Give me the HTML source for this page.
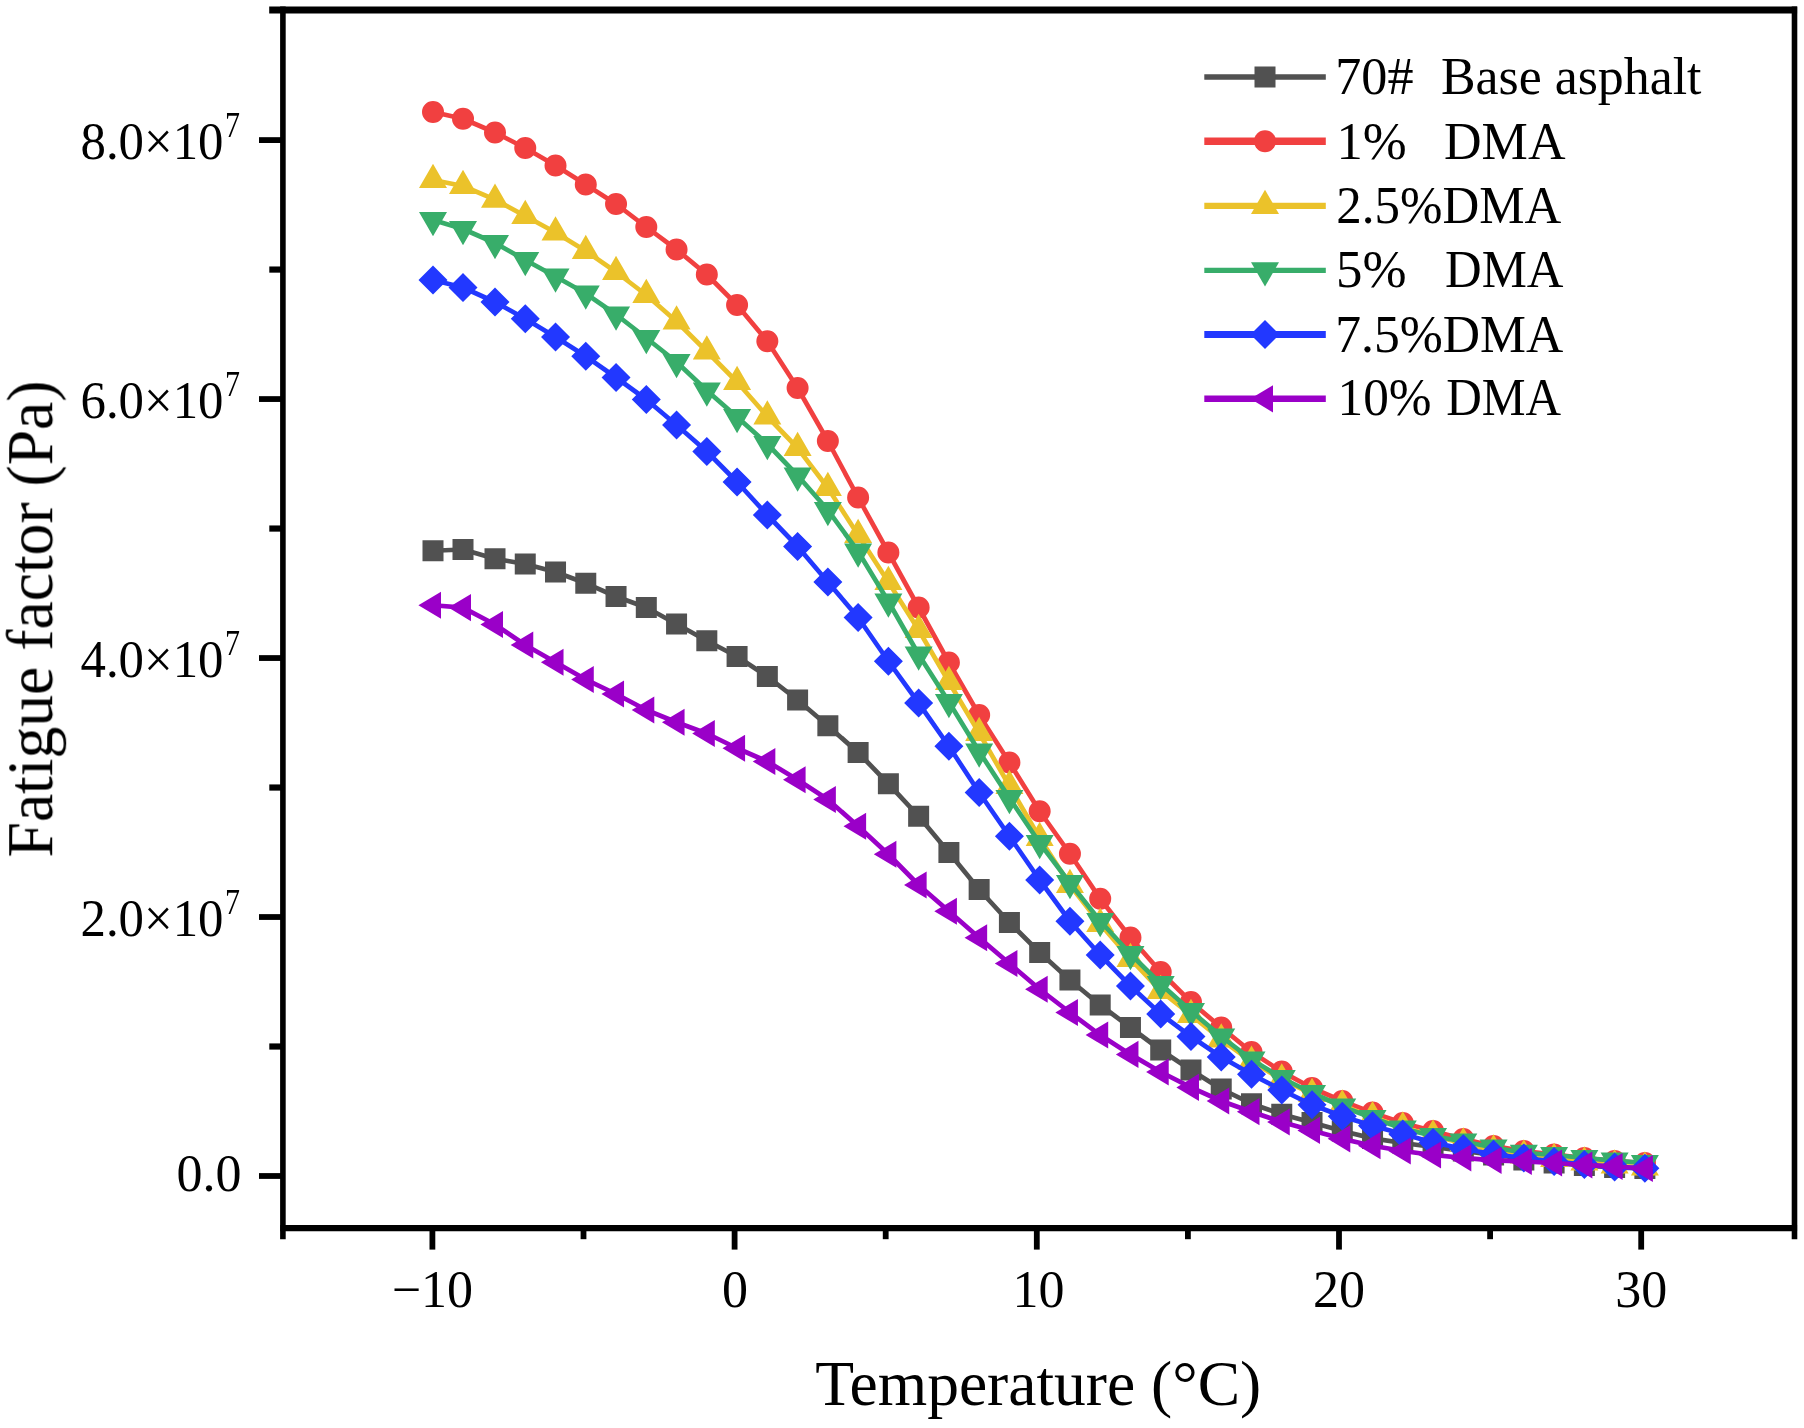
<!DOCTYPE html>
<html lang="en"><head><meta charset="utf-8"><title>Fatigue factor vs temperature</title>
<style>html,body{margin:0;padding:0;background:#fff}body{width:1804px;height:1428px;overflow:hidden}svg{display:block}text{font-family:"Liberation Serif",serif;fill:#000}</style>
</head><body>
<svg width="1804" height="1428" viewBox="0 0 1804 1428">
<defs><filter id="soft" filterUnits="userSpaceOnUse" x="0" y="0" width="1804" height="1428"><feGaussianBlur stdDeviation="0.55"/></filter></defs>
<rect width="1804" height="1428" fill="#fff"/>
<g filter="url(#soft)">
<g fill="none" stroke-linejoin="round" stroke-linecap="butt">
<polyline points="433,550.75 463,549.5 495,558.75 525.26,564 555.52,572 585.78,583.25 616.04,596.5 646.3,607.5 676.56,624 706.82,640.75 737.08,656.5 767.34,676.5 797.6,700 827.86,725.75 858.12,752.5 888.38,783.75 918.64,816.25 948.9,852.5 979.16,889.5 1009.42,922.5 1039.68,952.5 1069.94,980 1100.2,1005 1130.46,1027.5 1160.72,1050 1190.98,1070 1221.24,1089 1251.5,1103.7 1281.76,1114.2 1312.02,1122.6 1342.28,1131 1372.54,1138.4 1402.8,1143 1433.06,1147 1463.32,1151 1493.58,1155 1523.84,1160 1554.1,1163 1584.36,1165.5 1614.62,1167.5 1644.88,1168.5" stroke="#515151" stroke-width="4.7"/>
<path d="M422.5 540.25h21v21h-21zM452.5 539h21v21h-21zM484.5 548.25h21v21h-21zM514.76 553.5h21v21h-21zM545.02 561.5h21v21h-21zM575.28 572.75h21v21h-21zM605.54 586h21v21h-21zM635.8 597h21v21h-21zM666.06 613.5h21v21h-21zM696.32 630.25h21v21h-21zM726.58 646h21v21h-21zM756.84 666h21v21h-21zM787.1 689.5h21v21h-21zM817.36 715.25h21v21h-21zM847.62 742h21v21h-21zM877.88 773.25h21v21h-21zM908.14 805.75h21v21h-21zM938.4 842h21v21h-21zM968.66 879h21v21h-21zM998.92 912h21v21h-21zM1029.18 942h21v21h-21zM1059.44 969.5h21v21h-21zM1089.7 994.5h21v21h-21zM1119.96 1017h21v21h-21zM1150.22 1039.5h21v21h-21zM1180.48 1059.5h21v21h-21zM1210.74 1078.5h21v21h-21zM1241 1093.2h21v21h-21zM1271.26 1103.7h21v21h-21zM1301.52 1112.1h21v21h-21zM1331.78 1120.5h21v21h-21zM1362.04 1127.9h21v21h-21zM1392.3 1132.5h21v21h-21zM1422.56 1136.5h21v21h-21zM1452.82 1140.5h21v21h-21zM1483.08 1144.5h21v21h-21zM1513.34 1149.5h21v21h-21zM1543.6 1152.5h21v21h-21zM1573.86 1155h21v21h-21zM1604.12 1157h21v21h-21zM1634.38 1158h21v21h-21z" fill="#515151" stroke="none"/>
<polyline points="433,112 463,118.75 495,132.5 525.26,148 555.52,165.5 585.78,184.5 616.04,204 646.3,227 676.56,249.5 706.82,274.5 737.08,305 767.34,341.25 797.6,388 827.86,441 858.12,497.5 888.38,552.5 918.64,607.5 948.9,662.5 979.16,715 1009.42,762.5 1039.68,811.25 1069.94,853.75 1100.2,898.75 1130.46,937.5 1160.72,972 1190.98,1002 1221.24,1027.5 1251.5,1052 1281.76,1071.6 1312.02,1088 1342.28,1101 1372.54,1112.6 1402.8,1123 1433.06,1131 1463.32,1139 1493.58,1146 1523.84,1151 1554.1,1154.5 1584.36,1158 1614.62,1161 1644.88,1163" stroke="#F14040" stroke-width="4.7"/>
<path d="M422 112a11 11 0 1 0 22 0a11 11 0 1 0 -22 0zM452 118.75a11 11 0 1 0 22 0a11 11 0 1 0 -22 0zM484 132.5a11 11 0 1 0 22 0a11 11 0 1 0 -22 0zM514.26 148a11 11 0 1 0 22 0a11 11 0 1 0 -22 0zM544.52 165.5a11 11 0 1 0 22 0a11 11 0 1 0 -22 0zM574.78 184.5a11 11 0 1 0 22 0a11 11 0 1 0 -22 0zM605.04 204a11 11 0 1 0 22 0a11 11 0 1 0 -22 0zM635.3 227a11 11 0 1 0 22 0a11 11 0 1 0 -22 0zM665.56 249.5a11 11 0 1 0 22 0a11 11 0 1 0 -22 0zM695.82 274.5a11 11 0 1 0 22 0a11 11 0 1 0 -22 0zM726.08 305a11 11 0 1 0 22 0a11 11 0 1 0 -22 0zM756.34 341.25a11 11 0 1 0 22 0a11 11 0 1 0 -22 0zM786.6 388a11 11 0 1 0 22 0a11 11 0 1 0 -22 0zM816.86 441a11 11 0 1 0 22 0a11 11 0 1 0 -22 0zM847.12 497.5a11 11 0 1 0 22 0a11 11 0 1 0 -22 0zM877.38 552.5a11 11 0 1 0 22 0a11 11 0 1 0 -22 0zM907.64 607.5a11 11 0 1 0 22 0a11 11 0 1 0 -22 0zM937.9 662.5a11 11 0 1 0 22 0a11 11 0 1 0 -22 0zM968.16 715a11 11 0 1 0 22 0a11 11 0 1 0 -22 0zM998.42 762.5a11 11 0 1 0 22 0a11 11 0 1 0 -22 0zM1028.68 811.25a11 11 0 1 0 22 0a11 11 0 1 0 -22 0zM1058.94 853.75a11 11 0 1 0 22 0a11 11 0 1 0 -22 0zM1089.2 898.75a11 11 0 1 0 22 0a11 11 0 1 0 -22 0zM1119.46 937.5a11 11 0 1 0 22 0a11 11 0 1 0 -22 0zM1149.72 972a11 11 0 1 0 22 0a11 11 0 1 0 -22 0zM1179.98 1002a11 11 0 1 0 22 0a11 11 0 1 0 -22 0zM1210.24 1027.5a11 11 0 1 0 22 0a11 11 0 1 0 -22 0zM1240.5 1052a11 11 0 1 0 22 0a11 11 0 1 0 -22 0zM1270.76 1071.6a11 11 0 1 0 22 0a11 11 0 1 0 -22 0zM1301.02 1088a11 11 0 1 0 22 0a11 11 0 1 0 -22 0zM1331.28 1101a11 11 0 1 0 22 0a11 11 0 1 0 -22 0zM1361.54 1112.6a11 11 0 1 0 22 0a11 11 0 1 0 -22 0zM1391.8 1123a11 11 0 1 0 22 0a11 11 0 1 0 -22 0zM1422.06 1131a11 11 0 1 0 22 0a11 11 0 1 0 -22 0zM1452.32 1139a11 11 0 1 0 22 0a11 11 0 1 0 -22 0zM1482.58 1146a11 11 0 1 0 22 0a11 11 0 1 0 -22 0zM1512.84 1151a11 11 0 1 0 22 0a11 11 0 1 0 -22 0zM1543.1 1154.5a11 11 0 1 0 22 0a11 11 0 1 0 -22 0zM1573.36 1158a11 11 0 1 0 22 0a11 11 0 1 0 -22 0zM1603.62 1161a11 11 0 1 0 22 0a11 11 0 1 0 -22 0zM1633.88 1163a11 11 0 1 0 22 0a11 11 0 1 0 -22 0z" fill="#F14040" stroke="none"/>
<polyline points="433,180 463,186 495,199.6 525.26,216 555.52,232.5 585.78,251 616.04,272 646.3,295 676.56,321.5 706.82,351.5 737.08,382 767.34,416.5 797.6,448 827.86,488 858.12,535 888.38,582 918.64,630 948.9,682 979.16,733 1009.42,786 1039.68,838 1069.94,885 1100.2,924 1130.46,959 1160.72,991 1190.98,1015 1221.24,1039.5 1251.5,1061.6 1281.76,1079.5 1312.02,1094 1342.28,1105.5 1372.54,1117.1 1402.8,1127.5 1433.06,1135.5 1463.32,1143.5 1493.58,1150.5 1523.84,1155.5 1554.1,1159 1584.36,1162.5 1614.62,1165.5 1644.88,1167.5" stroke="#EBC22C" stroke-width="4.7"/>
<path d="M433 163.83L447 188.08L419 188.08zM463 169.83L477 194.08L449 194.08zM495 183.43L509 207.68L481 207.68zM525.26 199.83L539.26 224.08L511.26 224.08zM555.52 216.33L569.52 240.58L541.52 240.58zM585.78 234.83L599.78 259.08L571.78 259.08zM616.04 255.83L630.04 280.08L602.04 280.08zM646.3 278.83L660.3 303.08L632.3 303.08zM676.56 305.33L690.56 329.58L662.56 329.58zM706.82 335.33L720.82 359.58L692.82 359.58zM737.08 365.83L751.08 390.08L723.08 390.08zM767.34 400.33L781.34 424.58L753.34 424.58zM797.6 431.83L811.6 456.08L783.6 456.08zM827.86 471.83L841.86 496.08L813.86 496.08zM858.12 518.83L872.12 543.08L844.12 543.08zM888.38 565.83L902.38 590.08L874.38 590.08zM918.64 613.83L932.64 638.08L904.64 638.08zM948.9 665.83L962.9 690.08L934.9 690.08zM979.16 716.83L993.16 741.08L965.16 741.08zM1009.42 769.83L1023.42 794.08L995.42 794.08zM1039.68 821.83L1053.68 846.08L1025.68 846.08zM1069.94 868.83L1083.94 893.08L1055.94 893.08zM1100.2 907.83L1114.2 932.08L1086.2 932.08zM1130.46 942.83L1144.46 967.08L1116.46 967.08zM1160.72 974.83L1174.72 999.08L1146.72 999.08zM1190.98 998.83L1204.98 1023.08L1176.98 1023.08zM1221.24 1023.33L1235.24 1047.58L1207.24 1047.58zM1251.5 1045.43L1265.5 1069.68L1237.5 1069.68zM1281.76 1063.33L1295.76 1087.58L1267.76 1087.58zM1312.02 1077.83L1326.02 1102.08L1298.02 1102.08zM1342.28 1089.33L1356.28 1113.58L1328.28 1113.58zM1372.54 1100.93L1386.54 1125.18L1358.54 1125.18zM1402.8 1111.33L1416.8 1135.58L1388.8 1135.58zM1433.06 1119.33L1447.06 1143.58L1419.06 1143.58zM1463.32 1127.33L1477.32 1151.58L1449.32 1151.58zM1493.58 1134.33L1507.58 1158.58L1479.58 1158.58zM1523.84 1139.33L1537.84 1163.58L1509.84 1163.58zM1554.1 1142.83L1568.1 1167.08L1540.1 1167.08zM1584.36 1146.33L1598.36 1170.58L1570.36 1170.58zM1614.62 1149.33L1628.62 1173.58L1600.62 1173.58zM1644.88 1151.33L1658.88 1175.58L1630.88 1175.58z" fill="#EBC22C" stroke="none"/>
<polyline points="433,220 463,229 495,243 525.26,260 555.52,276.5 585.78,293.5 616.04,314.5 646.3,338 676.56,362 706.82,390.5 737.08,417 767.34,444 797.6,475.5 827.86,510 858.12,551.5 888.38,601.5 918.64,654.5 948.9,702 979.16,751.5 1009.42,798 1039.68,843 1069.94,883 1100.2,921 1130.46,954 1160.72,984 1190.98,1011 1221.24,1036.5 1251.5,1059.6 1281.76,1078 1312.02,1093 1342.28,1106.5 1372.54,1118 1402.8,1128.5 1433.06,1136 1463.32,1141.5 1493.58,1147.5 1523.84,1152.8 1554.1,1155 1584.36,1158 1614.62,1160.6 1644.88,1163" stroke="#37AD6B" stroke-width="4.7"/>
<path d="M433 236.17L447 211.92L419 211.92zM463 245.17L477 220.92L449 220.92zM495 259.17L509 234.92L481 234.92zM525.26 276.17L539.26 251.92L511.26 251.92zM555.52 292.67L569.52 268.42L541.52 268.42zM585.78 309.67L599.78 285.42L571.78 285.42zM616.04 330.67L630.04 306.42L602.04 306.42zM646.3 354.17L660.3 329.92L632.3 329.92zM676.56 378.17L690.56 353.92L662.56 353.92zM706.82 406.67L720.82 382.42L692.82 382.42zM737.08 433.17L751.08 408.92L723.08 408.92zM767.34 460.17L781.34 435.92L753.34 435.92zM797.6 491.67L811.6 467.42L783.6 467.42zM827.86 526.17L841.86 501.92L813.86 501.92zM858.12 567.67L872.12 543.42L844.12 543.42zM888.38 617.67L902.38 593.42L874.38 593.42zM918.64 670.67L932.64 646.42L904.64 646.42zM948.9 718.17L962.9 693.92L934.9 693.92zM979.16 767.67L993.16 743.42L965.16 743.42zM1009.42 814.17L1023.42 789.92L995.42 789.92zM1039.68 859.17L1053.68 834.92L1025.68 834.92zM1069.94 899.17L1083.94 874.92L1055.94 874.92zM1100.2 937.17L1114.2 912.92L1086.2 912.92zM1130.46 970.17L1144.46 945.92L1116.46 945.92zM1160.72 1000.17L1174.72 975.92L1146.72 975.92zM1190.98 1027.17L1204.98 1002.92L1176.98 1002.92zM1221.24 1052.67L1235.24 1028.42L1207.24 1028.42zM1251.5 1075.77L1265.5 1051.52L1237.5 1051.52zM1281.76 1094.17L1295.76 1069.92L1267.76 1069.92zM1312.02 1109.17L1326.02 1084.92L1298.02 1084.92zM1342.28 1122.67L1356.28 1098.42L1328.28 1098.42zM1372.54 1134.17L1386.54 1109.92L1358.54 1109.92zM1402.8 1144.67L1416.8 1120.42L1388.8 1120.42zM1433.06 1152.17L1447.06 1127.92L1419.06 1127.92zM1463.32 1157.67L1477.32 1133.42L1449.32 1133.42zM1493.58 1163.67L1507.58 1139.42L1479.58 1139.42zM1523.84 1168.97L1537.84 1144.72L1509.84 1144.72zM1554.1 1171.17L1568.1 1146.92L1540.1 1146.92zM1584.36 1174.17L1598.36 1149.92L1570.36 1149.92zM1614.62 1176.77L1628.62 1152.52L1600.62 1152.52zM1644.88 1179.17L1658.88 1154.92L1630.88 1154.92z" fill="#37AD6B" stroke="none"/>
<polyline points="433,280 463,287.5 495,302 525.26,318.75 555.52,337 585.78,356.25 616.04,377.5 646.3,399.5 676.56,425 706.82,451.5 737.08,482 767.34,515 797.6,546.5 827.86,582 858.12,617.5 888.38,661.25 918.64,703 948.9,746.25 979.16,792.5 1009.42,836.25 1039.68,880 1069.94,921.25 1100.2,955 1130.46,986 1160.72,1014 1190.98,1036.5 1221.24,1057 1251.5,1074.3 1281.76,1090 1312.02,1104.8 1342.28,1116.3 1372.54,1125.8 1402.8,1134 1433.06,1142.5 1463.32,1148.8 1493.58,1154.3 1523.84,1158 1554.1,1161.6 1584.36,1164.6 1614.62,1167 1644.88,1168.3" stroke="#2138FF" stroke-width="4.7"/>
<path d="M433 265.5L447.5 280L433 294.5L418.5 280zM463 273L477.5 287.5L463 302L448.5 287.5zM495 287.5L509.5 302L495 316.5L480.5 302zM525.26 304.25L539.76 318.75L525.26 333.25L510.76 318.75zM555.52 322.5L570.02 337L555.52 351.5L541.02 337zM585.78 341.75L600.28 356.25L585.78 370.75L571.28 356.25zM616.04 363L630.54 377.5L616.04 392L601.54 377.5zM646.3 385L660.8 399.5L646.3 414L631.8 399.5zM676.56 410.5L691.06 425L676.56 439.5L662.06 425zM706.82 437L721.32 451.5L706.82 466L692.32 451.5zM737.08 467.5L751.58 482L737.08 496.5L722.58 482zM767.34 500.5L781.84 515L767.34 529.5L752.84 515zM797.6 532L812.1 546.5L797.6 561L783.1 546.5zM827.86 567.5L842.36 582L827.86 596.5L813.36 582zM858.12 603L872.62 617.5L858.12 632L843.62 617.5zM888.38 646.75L902.88 661.25L888.38 675.75L873.88 661.25zM918.64 688.5L933.14 703L918.64 717.5L904.14 703zM948.9 731.75L963.4 746.25L948.9 760.75L934.4 746.25zM979.16 778L993.66 792.5L979.16 807L964.66 792.5zM1009.42 821.75L1023.92 836.25L1009.42 850.75L994.92 836.25zM1039.68 865.5L1054.18 880L1039.68 894.5L1025.18 880zM1069.94 906.75L1084.44 921.25L1069.94 935.75L1055.44 921.25zM1100.2 940.5L1114.7 955L1100.2 969.5L1085.7 955zM1130.46 971.5L1144.96 986L1130.46 1000.5L1115.96 986zM1160.72 999.5L1175.22 1014L1160.72 1028.5L1146.22 1014zM1190.98 1022L1205.48 1036.5L1190.98 1051L1176.48 1036.5zM1221.24 1042.5L1235.74 1057L1221.24 1071.5L1206.74 1057zM1251.5 1059.8L1266 1074.3L1251.5 1088.8L1237 1074.3zM1281.76 1075.5L1296.26 1090L1281.76 1104.5L1267.26 1090zM1312.02 1090.3L1326.52 1104.8L1312.02 1119.3L1297.52 1104.8zM1342.28 1101.8L1356.78 1116.3L1342.28 1130.8L1327.78 1116.3zM1372.54 1111.3L1387.04 1125.8L1372.54 1140.3L1358.04 1125.8zM1402.8 1119.5L1417.3 1134L1402.8 1148.5L1388.3 1134zM1433.06 1128L1447.56 1142.5L1433.06 1157L1418.56 1142.5zM1463.32 1134.3L1477.82 1148.8L1463.32 1163.3L1448.82 1148.8zM1493.58 1139.8L1508.08 1154.3L1493.58 1168.8L1479.08 1154.3zM1523.84 1143.5L1538.34 1158L1523.84 1172.5L1509.34 1158zM1554.1 1147.1L1568.6 1161.6L1554.1 1176.1L1539.6 1161.6zM1584.36 1150.1L1598.86 1164.6L1584.36 1179.1L1569.86 1164.6zM1614.62 1152.5L1629.12 1167L1614.62 1181.5L1600.12 1167zM1644.88 1153.8L1659.38 1168.3L1644.88 1182.8L1630.38 1168.3z" fill="#2138FF" stroke="none"/>
<polyline points="433,605.25 463,607.6 495,624.5 525.26,645 555.52,662.25 585.78,679.5 616.04,694 646.3,710 676.56,722.25 706.82,733.5 737.08,748.25 767.34,761.5 797.6,779.75 827.86,799.5 858.12,826.25 888.38,854.25 918.64,885 948.9,911.25 979.16,937.75 1009.42,963.5 1039.68,989.25 1069.94,1012.5 1100.2,1035 1130.46,1054.4 1160.72,1072 1190.98,1087.4 1221.24,1101 1251.5,1111.7 1281.76,1122 1312.02,1130.4 1342.28,1138.8 1372.54,1145.7 1402.8,1151 1433.06,1155 1463.32,1157.8 1493.58,1160.3 1523.84,1161.5 1554.1,1163 1584.36,1165 1614.62,1166.5 1644.88,1168.5" stroke="#9A00C8" stroke-width="4.7"/>
<path d="M418.4 605.25L441 591.65L441 618.85zM448.4 607.6L471 594L471 621.2zM480.4 624.5L503 610.9L503 638.1zM510.66 645L533.26 631.4L533.26 658.6zM540.92 662.25L563.52 648.65L563.52 675.85zM571.18 679.5L593.78 665.9L593.78 693.1zM601.44 694L624.04 680.4L624.04 707.6zM631.7 710L654.3 696.4L654.3 723.6zM661.96 722.25L684.56 708.65L684.56 735.85zM692.22 733.5L714.82 719.9L714.82 747.1zM722.48 748.25L745.08 734.65L745.08 761.85zM752.74 761.5L775.34 747.9L775.34 775.1zM783 779.75L805.6 766.15L805.6 793.35zM813.26 799.5L835.86 785.9L835.86 813.1zM843.52 826.25L866.12 812.65L866.12 839.85zM873.78 854.25L896.38 840.65L896.38 867.85zM904.04 885L926.64 871.4L926.64 898.6zM934.3 911.25L956.9 897.65L956.9 924.85zM964.56 937.75L987.16 924.15L987.16 951.35zM994.82 963.5L1017.42 949.9L1017.42 977.1zM1025.08 989.25L1047.68 975.65L1047.68 1002.85zM1055.34 1012.5L1077.94 998.9L1077.94 1026.1zM1085.6 1035L1108.2 1021.4L1108.2 1048.6zM1115.86 1054.4L1138.46 1040.8L1138.46 1068zM1146.12 1072L1168.72 1058.4L1168.72 1085.6zM1176.38 1087.4L1198.98 1073.8L1198.98 1101zM1206.64 1101L1229.24 1087.4L1229.24 1114.6zM1236.9 1111.7L1259.5 1098.1L1259.5 1125.3zM1267.16 1122L1289.76 1108.4L1289.76 1135.6zM1297.42 1130.4L1320.02 1116.8L1320.02 1144zM1327.68 1138.8L1350.28 1125.2L1350.28 1152.4zM1357.94 1145.7L1380.54 1132.1L1380.54 1159.3zM1388.2 1151L1410.8 1137.4L1410.8 1164.6zM1418.46 1155L1441.06 1141.4L1441.06 1168.6zM1448.72 1157.8L1471.32 1144.2L1471.32 1171.4zM1478.98 1160.3L1501.58 1146.7L1501.58 1173.9zM1509.24 1161.5L1531.84 1147.9L1531.84 1175.1zM1539.5 1163L1562.1 1149.4L1562.1 1176.6zM1569.76 1165L1592.36 1151.4L1592.36 1178.6zM1600.02 1166.5L1622.62 1152.9L1622.62 1180.1zM1630.28 1168.5L1652.88 1154.9L1652.88 1182.1z" fill="#9A00C8" stroke="none"/>
</g>
<g stroke="#000" fill="none" stroke-linecap="butt">
<line x1="282.9" y1="6.6" x2="282.9" y2="1239.2" stroke-width="5.6"/>
<line x1="1794.5" y1="6.6" x2="1794.5" y2="1239.2" stroke-width="5.6"/>
<line x1="269.2" y1="10" x2="1797.1" y2="10" stroke-width="6.8"/>
<line x1="280.3" y1="1228.2" x2="1797.1" y2="1228.2" stroke-width="6.2"/>
<line x1="259" y1="1176" x2="282.9" y2="1176" stroke-width="5.8"/>
<line x1="269.3" y1="1046.51" x2="282.9" y2="1046.51" stroke-width="6.2"/>
<line x1="259" y1="917.02" x2="282.9" y2="917.02" stroke-width="5.8"/>
<line x1="269.3" y1="787.53" x2="282.9" y2="787.53" stroke-width="6.2"/>
<line x1="259" y1="658.04" x2="282.9" y2="658.04" stroke-width="5.8"/>
<line x1="269.3" y1="528.55" x2="282.9" y2="528.55" stroke-width="6.2"/>
<line x1="259" y1="399.06" x2="282.9" y2="399.06" stroke-width="5.8"/>
<line x1="269.3" y1="269.57" x2="282.9" y2="269.57" stroke-width="6.2"/>
<line x1="259" y1="140.08" x2="282.9" y2="140.08" stroke-width="5.8"/>
<line x1="432.4" y1="1228.2" x2="432.4" y2="1249.6" stroke-width="5.8"/>
<line x1="583.5" y1="1228.2" x2="583.5" y2="1239.2" stroke-width="5.8"/>
<line x1="734.6" y1="1228.2" x2="734.6" y2="1249.6" stroke-width="5.8"/>
<line x1="885.7" y1="1228.2" x2="885.7" y2="1239.2" stroke-width="5.8"/>
<line x1="1036.8" y1="1228.2" x2="1036.8" y2="1249.6" stroke-width="5.8"/>
<line x1="1187.9" y1="1228.2" x2="1187.9" y2="1239.2" stroke-width="5.8"/>
<line x1="1339" y1="1228.2" x2="1339" y2="1249.6" stroke-width="5.8"/>
<line x1="1490.1" y1="1228.2" x2="1490.1" y2="1239.2" stroke-width="5.8"/>
<line x1="1641.2" y1="1228.2" x2="1641.2" y2="1249.6" stroke-width="5.8"/>
</g>
<g font-size="52">
<text x="80.5" y="935.52" textLength="143" lengthAdjust="spacingAndGlyphs">2.0×10</text>
<text x="225" y="913.82" font-size="36" textLength="15" lengthAdjust="spacingAndGlyphs">7</text>
<text x="80.5" y="676.54" textLength="143" lengthAdjust="spacingAndGlyphs">4.0×10</text>
<text x="225" y="654.84" font-size="36" textLength="15" lengthAdjust="spacingAndGlyphs">7</text>
<text x="80.5" y="417.56" textLength="143" lengthAdjust="spacingAndGlyphs">6.0×10</text>
<text x="225" y="395.86" font-size="36" textLength="15" lengthAdjust="spacingAndGlyphs">7</text>
<text x="80.5" y="158.58" textLength="143" lengthAdjust="spacingAndGlyphs">8.0×10</text>
<text x="225" y="136.88" font-size="36" textLength="15" lengthAdjust="spacingAndGlyphs">7</text>
<text x="241.5" y="1190.7" text-anchor="end">0.0</text>
<text x="432.4" y="1307" text-anchor="middle">−10</text>
<text x="735.1" y="1307" text-anchor="middle">0</text>
<text x="1038.6" y="1307" text-anchor="middle">10</text>
<text x="1339" y="1307" text-anchor="middle">20</text>
<text x="1641.2" y="1307" text-anchor="middle">30</text>
</g>
<text x="815.2" y="1405" font-size="63" textLength="446" lengthAdjust="spacingAndGlyphs">Temperature (°C)</text>
<text transform="translate(52.2 857.5) rotate(-90)" font-size="65.5" textLength="477" lengthAdjust="spacingAndGlyphs">Fatigue factor (Pa)</text>
<g>
<line x1="1204.3" y1="77" x2="1325.8" y2="77" stroke="#515151" stroke-width="5.3"/>
<path d="M1254.5 66.5h21v21h-21z" fill="#515151"/>
<line x1="1204.3" y1="141.3" x2="1325.8" y2="141.3" stroke="#F14040" stroke-width="7.6"/>
<path d="M1254 141.3a11 11 0 1 0 22 0a11 11 0 1 0 -22 0z" fill="#F14040"/>
<line x1="1204.3" y1="205.9" x2="1325.8" y2="205.9" stroke="#EBC22C" stroke-width="6.4"/>
<path d="M1265 189.73L1279 213.98L1251 213.98z" fill="#EBC22C"/>
<line x1="1204.3" y1="270.3" x2="1325.8" y2="270.3" stroke="#37AD6B" stroke-width="5.3"/>
<path d="M1265 286.47L1279 262.22L1251 262.22z" fill="#37AD6B"/>
<line x1="1204.3" y1="334.4" x2="1325.8" y2="334.4" stroke="#2138FF" stroke-width="7"/>
<path d="M1265 319.9L1279.5 334.4L1265 348.9L1250.5 334.4z" fill="#2138FF"/>
<line x1="1204.3" y1="398.8" x2="1325.8" y2="398.8" stroke="#9A00C8" stroke-width="6.4"/>
<path d="M1250.4 398.8L1273 385.2L1273 412.4z" fill="#9A00C8"/>
</g>
<g font-size="52">
<text x="1335.3" y="93.6" textLength="78.2" lengthAdjust="spacingAndGlyphs">70#</text>
<text x="1441" y="93.6" textLength="260.5" lengthAdjust="spacingAndGlyphs">Base asphalt</text>
<text x="1336.5" y="158.5" textLength="70.3" lengthAdjust="spacingAndGlyphs">1%</text>
<text x="1444" y="158.5" textLength="121.5" lengthAdjust="spacingAndGlyphs">DMA</text>
<text x="1336.3" y="222.6" textLength="225" lengthAdjust="spacingAndGlyphs">2.5%DMA</text>
<text x="1336" y="286.8" textLength="70.5" lengthAdjust="spacingAndGlyphs">5%</text>
<text x="1445" y="286.8" textLength="118.5" lengthAdjust="spacingAndGlyphs">DMA</text>
<text x="1335.3" y="351.8" textLength="228" lengthAdjust="spacingAndGlyphs">7.5%DMA</text>
<text x="1337.6" y="414.8" textLength="94" lengthAdjust="spacingAndGlyphs">10%</text>
<text x="1446.2" y="414.8" textLength="115" lengthAdjust="spacingAndGlyphs">DMA</text>
</g>
</g>
</svg>
</body></html>
